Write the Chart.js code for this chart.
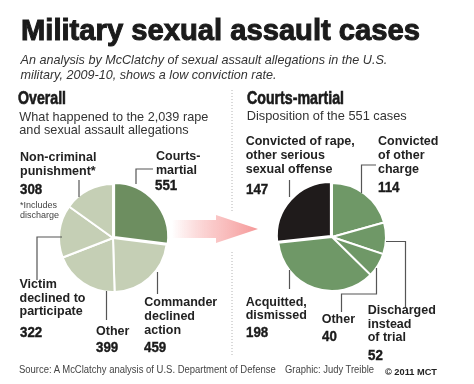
<!DOCTYPE html>
<html>
<head>
<meta charset="utf-8">
<title>Military sexual assault cases</title>
<script src="https://cdn.jsdelivr.net/npm/chart.js@4.4.1/dist/chart.umd.min.js"></script>
<style>
  html, body { margin: 0; padding: 0; background: #fff; }
  #wrap { position: relative; width: 474px; height: 384px; overflow: hidden; background: #fff;
          font-family: 'Liberation Sans', Arial, Helvetica, sans-serif; color: #1e1e1e; }
  #wrap canvas { position: absolute; }
  #deco { position: absolute; left: 0; top: 0; }
  .txt { position: absolute; white-space: nowrap; transform-origin: 0 0; }
  .title { font-weight: bold; -webkit-text-stroke: 1px #1b1b1b; color: #1b1b1b; }
  .sub { font-style: italic; color: #333; }
  .head { font-weight: bold; -webkit-text-stroke: 0.6px #1b1b1b; color: #1b1b1b; }
  .desc { color: #333; }
  .lab { font-weight: bold; color: #222; }
  .num { font-weight: bold; -webkit-text-stroke: 0.4px #1b1b1b; color: #1b1b1b; }
  .note { color: #444; }
  .foot { color: #444; }
  .mct { font-weight: bold; color: #222; }
</style>
</head>
<body>
<div id="wrap">
  <canvas id="overallChart" width="140" height="140" style="left:43px;top:168px;width:140px;height:140px"></canvas>
  <canvas id="courtsChart" width="140" height="140" style="left:262px;top:167px;width:140px;height:140px"></canvas>
  <svg id="deco" width="474" height="384">
    <defs>
      <linearGradient id="arrowFade" x1="172" y1="0" x2="258" y2="0" gradientUnits="userSpaceOnUse">
        <stop offset="0" stop-color="#f7a3a3" stop-opacity="0"></stop>
        <stop offset="0.5" stop-color="#f8b4b4" stop-opacity="0.75"></stop>
        <stop offset="1" stop-color="#f59898" stop-opacity="1"></stop>
      </linearGradient>
    </defs>
    <polygon points="172,220 216,220 216,215 258,229 216,243 216,238 172,238" fill="url(#arrowFade)"></polygon>
    <!-- divider -->
    <g stroke="#b4b4b4" stroke-width="1" stroke-dasharray="1 2" fill="none">
      <path d="M232 90 V213"></path>
      <path d="M232 252 V355"></path>
    </g>
    <!-- leader lines -->
    <g stroke="#555" stroke-width="1.2" fill="none">
      <path d="M136 184 V169 H153"></path>
      <path d="M79 180 V197"></path>
      <path d="M62 237 H37 V280"></path>
      <path d="M106.5 291 V320"></path>
      <path d="M157.5 272 V294"></path>
      <path d="M289.5 180 V197"></path>
      <path d="M361.5 193 V165 H376"></path>
      <path d="M386 241.5 H405.5 V308"></path>
      <path d="M376.5 268 V294 H341.5 V312"></path>
      <path d="M289.5 270 V289"></path>
    </g>
  </svg>
</div>
<script>
'use strict';

// Overall: what happened to the 2,039 allegations, clockwise from 12 o'clock
const overallNames = [
  ['Courts-', 'martial'],
  ['Commander', 'declined', 'action'],
  ['Other'],
  ['Victim', 'declined to', 'participate'],
  ['Non-criminal', 'punishment*']
];
const overallValues = [551, 459, 399, 322, 308];

// Courts-martial: disposition of the 551 cases, clockwise from 12 o'clock
const courtsNames = [
  ['Convicted', 'of other', 'charge'],
  ['Discharged', 'instead', 'of trial'],
  ['Other'],
  ['Acquitted,', 'dismissed'],
  ['Convicted of rape,', 'other serious', 'sexual offense']
];
const courtsValues = [114, 52, 40, 198, 147];

// slice colours and the pulled-out slice
const overallColors = ['#6d8e60', '#c5cfb5', '#c5cfb5', '#c5cfb5', '#c5cfb5'];
const overallOffset = [6, 0, 0, 0, 0];
const courtsColors = ['#6f9867', '#6f9867', '#6f9867', '#6f9867', '#1f1b1b'];
const courtsOffset = [0, 0, 0, 0, 6];

// label spots: [x, first line baseline, number x, number baseline]
const overallSpots = [
  [156, 161.5, 155, 190],
  [144.3, 307.5, 144.3, 352.7],
  [96, 336, 96, 352.7],
  [19.5, 289, 19.5, 337],
  [20, 162, 20, 194]
];
const courtsSpots = [
  [378, 146.5, 378.3, 192],
  [367.7, 315, 367.7, 360.7],
  [321.7, 324.3, 321.7, 341.3],
  [245.7, 306.7, 245.7, 337.7],
  [245.7, 146.5, 245.7, 194]
];

const wrap = document.getElementById('wrap');

// put a text block so that its first line sits on the given baseline
function addText(lines, x, base, cls, fs, lh, w) {
  let el = document.createElement('div');
  el.className = 'txt ' + cls;
  el.style.fontSize = fs + 'px';
  el.style.lineHeight = lh + 'px';
  el.innerHTML = lines.join('<br>');
  el.style.left = x + 'px';
  el.style.top = (base - ((lh - 1.117 * fs) / 2 + 0.905 * fs)) + 'px';
  wrap.appendChild(el);
  if (w) {
    el.style.transform = 'scaleX(' + (w / el.getBoundingClientRect().width) + ')';
  }
  return el;
}

function makePie(id, names, values, colors, offsets) {
  return new Chart(document.getElementById(id), {
    type: 'pie',
    data: {
      labels: names.map(n => n.join(' ')),
      datasets: [{
        data: values,
        backgroundColor: colors,
        borderColor: '#ffffff',
        borderWidth: 2,
        offset: offsets,
        radius: 54
      }]
    },
    options: {
      responsive: false,
      animation: false,
      events: [],
      layout: { padding: 0 },
      plugins: {
        legend: { display: false },
        tooltip: { enabled: false }
      }
    }
  });
}

function addLabels(names, values, spots) {
  for (let i = 0; i < names.length; i++) {
    let s = spots[i];
    addText(names[i], s[0], s[1], 'lab', 12.5, 13.7);
    let n = addText([values[i].toLocaleString('en-US')], s[2], s[3], 'num', 15.5, 16);
    n.style.transform = 'scaleX(0.86)';
  }
}

makePie('overallChart', overallNames, overallValues, overallColors, overallOffset);
makePie('courtsChart', courtsNames, courtsValues, courtsColors, courtsOffset);

// headings
addText(['Military sexual assault cases'], 20.5, 40, 'title', 30, 32, 399);
addText(['An analysis by McClatchy of sexual assault allegations in the U.S.',
         'military, 2009-10, shows a low conviction rate.'], 20.5, 65, 'sub', 12.6, 14.5);
addText(['Overall'], 18.3, 104.3, 'head', 17.7, 19, 48);
addText(['What happened to the 2,039 rape', 'and sexual assault allegations'], 19.3, 122, 'desc', 12.7, 13);
addText(['Courts-martial'], 246.7, 104.3, 'head', 17.7, 19, 97);
addText(['Disposition of the 551 cases'], 246.7, 120, 'desc', 12.8, 13);

addLabels(overallNames, overallValues, overallSpots);
addLabels(courtsNames, courtsValues, courtsSpots);
addText(['*Includes', 'discharge'], 20, 208.3, 'note', 9, 10.5);

// credits
addText(['Source: A McClatchy analysis of U.S. Department of Defense'], 19.3, 372.7, 'foot', 10, 11, 256.7);
addText(['Graphic: Judy Treible'], 285, 372.7, 'foot', 10, 11, 89);
addText(['\u00a9 2011 MCT'], 385, 375, 'mct', 9.5, 11, 52);
</script>
</body>
</html>
